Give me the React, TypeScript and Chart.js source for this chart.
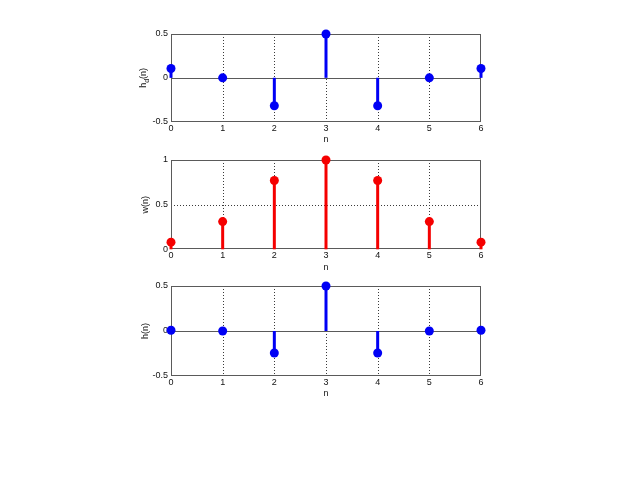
import React, { useEffect, useRef } from "react";
import { Chart, registerables } from "chart.js";

Chart.register(...registerables);

const N = [0, 1, 2, 3, 4, 5, 6];
const HD = [0.106, 0, -0.318, 0.5, -0.318, 0, 0.106];
const W = [0.08, 0.31, 0.77, 1.0, 0.77, 0.31, 0.08];
const H = [0.0085, 0, -0.245, 0.5, -0.245, 0, 0.0085];

const X_MIN = 0;
const X_MAX = 6;
const Y_RANGE_HD = [-0.5, 0.5];
const Y_RANGE_W = [0, 1];
const Y_RANGE_H = [-0.5, 0.5];

const BLUE = "#0000f5";
const RED = "#f50000";
const FONT = "Liberation Sans, Arial, sans-serif";

type PanelSpec = {
  top: number;
  height: number;
  padTop: number;
  bottomSpace: number;
  values: number[];
  yRange: number[];
  color: string;
  label: string;
  sub?: string;
  labelX: number;
};

const PANELS: PanelSpec[] = [
  { top: 0, height: 150, padTop: 34, bottomSpace: 28.3, values: HD, yRange: Y_RANGE_HD, color: BLUE, label: "h", sub: "d", labelX: 146 },
  { top: 150, height: 125, padTop: 10, bottomSpace: 25.7, values: W, yRange: Y_RANGE_W, color: RED, label: "w(n)", labelX: 148 },
  { top: 275, height: 203, padTop: 11, bottomSpace: 102, values: H, yRange: Y_RANGE_H, color: BLUE, label: "h(n)", labelX: 148 },
];

function makeFramePlugin(spec: PanelSpec) {
  return {
    id: "frame",
    beforeDatasetsDraw(chart: any) {
      const { ctx, chartArea } = chart;
      const { left, right, top, bottom } = chartArea;
      const xs = chart.scales.x;
      const ys = chart.scales.y;
      ctx.save();
      ctx.lineWidth = 1;
      ctx.strokeStyle = "#3a3a3a";
      ctx.setLineDash([1, 2]);
      for (let n = X_MIN + 1; n < X_MAX; n++) {
        const px = Math.round(xs.getPixelForValue(n)) + 0.5;
        ctx.beginPath();
        ctx.moveTo(px, top);
        ctx.lineTo(px, bottom);
        ctx.stroke();
      }
      const yMin = spec.yRange[0];
      const yMax = spec.yRange[1];
      for (let v = yMin + 0.5; v < yMax - 1e-9; v += 0.5) {
        const py = Math.round(ys.getPixelForValue(v)) + 0.5;
        ctx.beginPath();
        ctx.moveTo(left, py);
        ctx.lineTo(right, py);
        ctx.stroke();
      }
      ctx.setLineDash([]);
      ctx.strokeStyle = "#5a5a5a";
      if (yMin < 0 && yMax > 0) {
        const py = Math.round(ys.getPixelForValue(0)) + 0.5;
        ctx.beginPath();
        ctx.moveTo(left, py);
        ctx.lineTo(right, py);
        ctx.stroke();
      }
      const l = Math.round(left) + 0.5;
      const t = Math.round(top) + 0.5;
      const r = Math.round(right) - 0.5;
      const b = Math.round(bottom) - 0.5;
      ctx.strokeRect(l, t, r - l, b - t);
      ctx.restore();
    },
    afterDraw(chart: any) {
      const { ctx, chartArea } = chart;
      const { left, right, top, bottom } = chartArea;
      ctx.save();
      ctx.fillStyle = "#111";
      ctx.font = `9px ${FONT}`;
      ctx.textAlign = "center";
      ctx.textBaseline = "middle";
      ctx.fillText("n", (left + right) / 2, bottom + 18);
      ctx.translate(spec.labelX, (top + bottom) / 2);
      ctx.rotate(-Math.PI / 2);
      ctx.textBaseline = "alphabetic";
      if (spec.sub) {
        ctx.font = `9px ${FONT}`;
        const w1 = ctx.measureText(spec.label).width;
        ctx.font = `7px ${FONT}`;
        const w2 = ctx.measureText(spec.sub).width;
        ctx.font = `9px ${FONT}`;
        const w3 = ctx.measureText("(n)").width;
        const total = w1 + w2 + w3;
        const x0 = -total / 2;
        ctx.textAlign = "left";
        ctx.fillText(spec.label, x0, 0);
        ctx.font = `7px ${FONT}`;
        ctx.fillText(spec.sub, x0 + w1, 2.5);
        ctx.font = `9px ${FONT}`;
        ctx.fillText("(n)", x0 + w1 + w2, 0);
      } else {
        ctx.fillText(spec.label, 0, 0);
      }
      ctx.restore();
    },
  };
}

function Panel({ spec }: { spec: PanelSpec }) {
  const ref = useRef<HTMLCanvasElement | null>(null);
  useEffect(() => {
    if (!ref.current) return;
    const stems = N.map((n, i) => ({
      type: "line" as const,
      data: [
        { x: n, y: 0 },
        { x: n, y: spec.values[i] },
      ],
      borderColor: spec.color,
      borderWidth: 3,
      pointRadius: 0,
      showLine: true,
      clip: false as any,
      order: 2,
    }));
    const markers = {
      type: "scatter" as const,
      data: N.map((n, i) => ({ x: n, y: spec.values[i] })),
      backgroundColor: spec.color,
      borderColor: spec.color,
      borderWidth: 0,
      pointRadius: 4.5,
      clip: false as any,
      order: 1,
    };
    const chart = new Chart(ref.current, {
      type: "scatter",
      data: { datasets: [...stems, markers] as any },
      options: {
        animation: false,
        responsive: false,
        maintainAspectRatio: false,
        devicePixelRatio: 1,
        events: [],
        layout: { padding: { left: 0, right: 157, top: spec.padTop, bottom: 0 } },
        plugins: { legend: { display: false }, tooltip: { enabled: false } },
        scales: {
          x: {
            type: "linear",
            min: X_MIN,
            max: X_MAX,
            grid: { display: false, drawTicks: false },
            border: { display: false },
            ticks: {
              stepSize: 1,
              padding: 1,
              color: "#111",
              font: { family: FONT, size: 9 },
              maxRotation: 0,
              callback: (v: any) => `${v}`,
            },
            afterFit(scale: any) {
              scale.height = spec.bottomSpace;
            },
          },
          y: {
            type: "linear",
            min: spec.yRange[0],
            max: spec.yRange[1],
            grid: { display: false, drawTicks: false },
            border: { display: false },
            ticks: {
              stepSize: 0.5,
              padding: 3,
              color: "#111",
              font: { family: FONT, size: 9 },
              callback: (v: any) => `${Math.round(Number(v) * 10) / 10}`,
            },
            afterFit(scale: any) {
              scale.width = 171;
            },
          },
        },
      } as any,
      plugins: [makeFramePlugin(spec)],
    });
    return () => chart.destroy();
  }, [spec]);
  return (
    <canvas
      ref={ref}
      width={638}
      height={spec.height}
      style={{ position: "absolute", left: 0, top: spec.top, width: 638, height: spec.height }}
    />
  );
}

export default function App() {
  return (
    <div style={{ position: "absolute", left: 0, top: 0, width: 638, height: 478, background: "#fff" }}>
      {PANELS.map((p, i) => (
        <Panel key={i} spec={p} />
      ))}
    </div>
  );
}
